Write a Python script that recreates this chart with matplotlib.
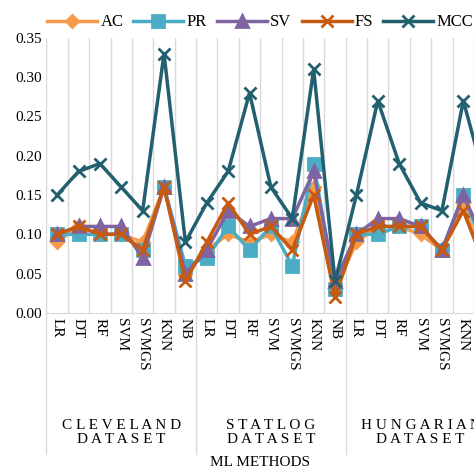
import numpy as np
import matplotlib
matplotlib.use("AGG")
import matplotlib.pyplot as plt

plt.rcParams['font.family'] = ['Liberation Serif', 'DejaVu Serif']

methods = ["LR", "DT", "RF", "SVM", "SVMGS", "KNN", "NB"]
groups = ["C L E V E L A N D\nD A T A S E T", "S T A T L O G\nD A T A S E T", "H U N G A R I A N\nD A T A S E T"]

ac = [.09, .11, .10, .10, .09, .16, .05,  .08, .10, .09, .10, .09, .16, .03,  .09, .11, .11, .10, .08, .14, .06]
pr = [.10, .10, .10, .10, .08, .16, .06,  .07, .11, .08, .11, .06, .19, .03,  .10, .10, .11, .11, .08, .15, .08]
sv = [.10, .11, .11, .11, .07, .16, .05,  .08, .13, .11, .12, .12, .18, .04,  .10, .12, .12, .11, .08, .15, .09]
fs = [.10, .11, .10, .10, .08, .16, .04,  .09, .14, .10, .11, .08, .15, .02,  .10, .11, .11, .11, .08, .13, .06]
mcc = [.15, .18, .19, .16, .13, .33, .09,  .14, .18, .28, .16, .12, .31, .04,  .15, .27, .19, .14, .13, .27, .17]

series = [("AC", ac, "#f79a4a", "D", 6), ("PR", pr, "#4bacc6", "s", 8),
          ("SV", sv, "#8064a2", "^", 8), ("FS", fs, "#c55a11", "x", 9),
          ("MCC", mcc, "#23606f", "x", 9)]

fig = plt.figure(figsize=(4.74, 4.74), dpi=100)
ax = fig.add_axes([0.098, 0.34, 0.902, 0.58])
x = np.arange(len(ac))
for name, vals, c, m, ms in series:
    ax.plot(x, vals, color=c, lw=2.5, marker=m, ms=ms, mew=2, label=name)
ax.set_ylim(0, 0.35)
ax.set_yticks(np.arange(0, 0.36, 0.05))
ax.set_yticklabels(["%.2f" % v for v in np.arange(0, 0.36, 0.05)], fontsize=11)
ax.set_xticks(x)
ax.set_xticklabels(methods * 3, rotation=270, fontsize=11)
ax.tick_params(length=0)
ax.set_xticks(np.arange(-0.5, 21, 1), minor=True)
ax.grid(axis='x', which='minor', color='#d9d9d9', lw=1)
ax.tick_params(which='minor', length=0)
ax.set_xlim(-0.5, 19.5)
for s in ['top', 'right', 'left']:
    ax.spines[s].set_visible(False)
ax.spines['bottom'].set_color('#d9d9d9')
for g in range(3):
    ax.text(g * 7 + 3, -0.152, groups[g], ha='center', va='center', fontsize=11,
            linespacing=1.1, clip_on=False)
    ax.plot([g * 7 - 0.5] * 2, [0, -0.18], color='#d9d9d9', lw=1, clip_on=False)
ax.text(9.5, -0.19, "ML METHODS", ha='center', va='center', fontsize=11)
ax.legend(loc='upper center', bbox_to_anchor=(0.5, 1.14), ncol=5, frameon=False,
          fontsize=12, handlelength=3, columnspacing=0.6, handletextpad=0.2)
fig.savefig("out.png")
